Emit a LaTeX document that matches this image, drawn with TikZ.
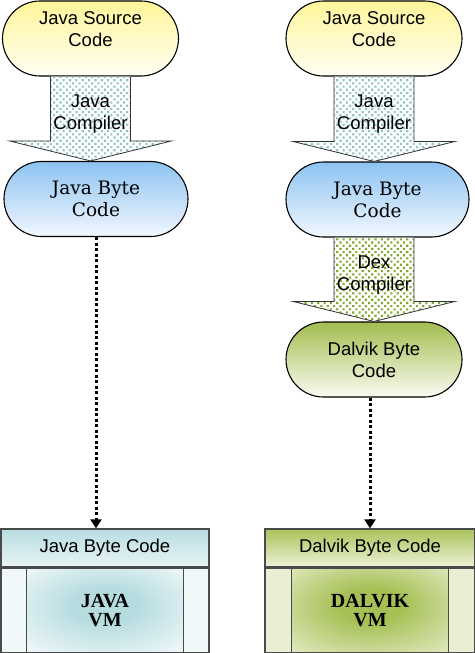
\documentclass[tikz,border=0pt]{standalone}
\usepackage{fontspec}
\setmainfont{Liberation Sans}
\newfontfamily\bytefont{DejaVu Serif}
\newfontfamily\vmfont{Liberation Serif}
\usetikzlibrary{shapes.misc,calc,positioning,arrows.meta,patterns.meta}

\definecolor{srctop}{HTML}{FFF59A}
\definecolor{srcbot}{HTML}{FFFFF4}
\definecolor{bytetop}{HTML}{8DC3F2}
\definecolor{bytebot}{HTML}{F2F8FE}
\definecolor{dalviktop}{HTML}{A3BD4F}
\definecolor{dalvikbot}{HTML}{FAFBF2}
\definecolor{javadots}{HTML}{8CC6C6}
\definecolor{dexdots}{HTML}{7DAA2E}
\definecolor{jhdrtop}{HTML}{B7DDE1}
\definecolor{jhdrbot}{HTML}{E9F4F5}
\definecolor{jside}{HTML}{F1F8F9}
\definecolor{jcore}{HTML}{B6DCE0}
\definecolor{dhdrtop}{HTML}{A9C259}
\definecolor{dhdrbot}{HTML}{EEF2D8}
\definecolor{dside}{HTML}{E9EFD3}
\definecolor{dcore}{HTML}{A6C055}
\definecolor{vmline}{HTML}{4A4A4A}

\pgfdeclareradialshading{jglow}{\pgfpoint{0bp}{4bp}}{color(0bp)=(jcore); color(10bp)=(jcore); color(42bp)=(white); color(50bp)=(white)}
\pgfdeclareradialshading{dglow}{\pgfpoint{0bp}{4bp}}{color(0bp)=(dcore); color(10bp)=(dcore); color(42bp)=(dhdrbot); color(50bp)=(dhdrbot)}

\tikzset{
  stadium/.style={rounded rectangle, draw, line width=1.1pt, align=center,
    minimum height=75pt, inner sep=2pt, font=\fontsize{18.5}{22}\selectfont},
  srcbox/.style={stadium, minimum width=180pt, top color=srctop, bottom color=srcbot,
    text depth=18pt},
  bytebox/.style={stadium, minimum width=188pt, top color=bytetop, bottom color=bytebot,
    font=\bytefont\fontsize{18.5}{22}\selectfont},
  dalvikbox/.style={stadium, minimum width=180pt, top color=dalviktop, bottom color=dalvikbot},
  compiler/.style={draw=black!80, line width=0.8pt, preaction={fill=white},
    pattern={Dots[radius=1.5pt, distance=4.5pt, angle=45]}},
  javacomp/.style={compiler, pattern color=javadots},
  dexcomp/.style={compiler, pattern color=dexdots},
  complabel/.style={align=center, inner sep=0pt, font=\fontsize{18.5}{22}\selectfont},
  runs/.style={line width=3pt, dash pattern=on 3pt off 2.5pt,
    -{Triangle[width=11pt,length=9pt]}},
  vmhead/.style={rectangle, draw=vmline, line width=1.3pt, minimum width=208pt,
    minimum height=38pt, inner sep=0pt, font=\fontsize{18.5}{22}\selectfont},
  vmbody/.style={rectangle, draw=vmline, line width=1.3pt, minimum width=208pt,
    minimum height=84pt, inner sep=0pt},
  vmcore/.style={rectangle, draw=vmline, line width=1.3pt, minimum width=157pt,
    minimum height=84pt, inner sep=0pt, align=center,
    font=\vmfont\bfseries\fontsize{20}{19}\selectfont},
}

% block arrow from one box to the next
\newcommand{\blockarrow}[3]{%
  \draw[#3] ($(#1.south)+(-40,0)$) -- ($(#1.south |- #2.north)+(-40,-20)$)
    -- ($(#1.south |- #2.north)+(-81,-20)$) -- (#1.south |- #2.north)
    -- ($(#1.south |- #2.north)+(81,-20)$) -- ($(#1.south |- #2.north)+(40,-20)$)
    -- ($(#1.south)+(40,0)$);
}

\begin{document}
\begin{tikzpicture}[x=1pt, y=-1pt]
  \useasboundingbox (0,0) rectangle (474,653);

  % Java VM side
  \node[srcbox] (jsrcL) at (90.5,38.5) {Java Source\\Code};
  \node[bytebox] (jbcL) at (96,199) {Java Byte\\Code};
  \blockarrow{jsrcL}{jbcL}{javacomp}
  \node[complabel] (jcompL) at ($(jsrcL.south)+(0,38)$) {Java\\Compiler};

  \node[vmhead, top color=jhdrtop, bottom color=jhdrbot] (jhdrL) at (105,548) {Java Byte Code};
  \node[vmbody, fill=jside, below=0pt of jhdrL] (jvmL) {};
  \node[vmcore, shading=jglow] (jcoreL) at (jvmL.center) {JAVA\\VM};
  \draw[runs] (jbcL.south) -- (jbcL.south |- jhdrL.north);

  % Dalvik VM side
  \node[srcbox] (jsrcR) at (374,38.5) {Java Source\\Code};
  \node[bytebox, minimum width=187pt] (jbcR) at (377.5,199.5) {Java Byte\\Code};
  \node[dalvikbox] (dbcR) at (374,359.5) {Dalvik Byte\\Code};
  \blockarrow{jsrcR}{jbcR}{javacomp}
  \node[complabel] (jcompR) at ($(jsrcR.south)+(0,38)$) {Java\\Compiler};
  \blockarrow{dbcR.north |- jbcR}{dbcR}{dexcomp}
  \node[complabel] (dcompR) at ($(dbcR.north |- jbcR.south)+(0,38)$) {Dex\\Compiler};

  \node[vmhead, minimum width=210pt, top color=dhdrtop, bottom color=dhdrbot] (dhdrR) at (370,548) {Dalvik Byte Code};
  \node[vmbody, minimum width=210pt, fill=dside, below=0pt of dhdrR] (dvmR) {};
  \node[vmcore, shading=dglow] (dcoreR) at (dvmR.center) {DALVIK\\VM};
  \draw[runs] (dhdrR.north |- dbcR.south) -- (dhdrR.north);
\end{tikzpicture}
\end{document}
